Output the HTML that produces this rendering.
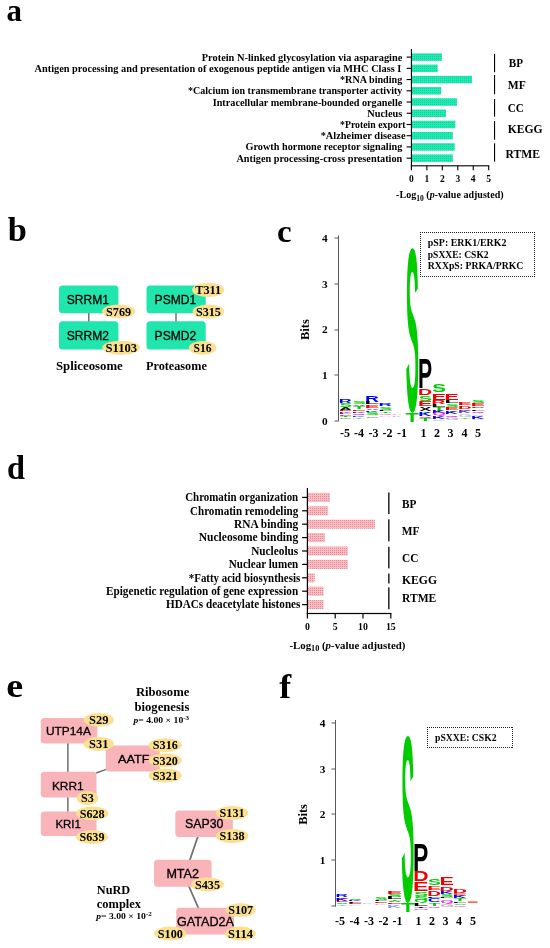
<!DOCTYPE html>
<html lang="en"><head><meta charset="utf-8"><title>Figure</title>
<style>
html,body{margin:0;padding:0;background:#fff}
body{width:550px;height:948px;overflow:hidden}
svg{display:block}
.sb{font-family:"Liberation Serif","DejaVu Serif",serif;font-weight:bold;fill:#000}
.sr{font-family:"Liberation Serif","DejaVu Serif",serif;font-weight:normal;fill:#000}
.sbi{font-family:"Liberation Serif","DejaVu Serif",serif;font-weight:bold;font-style:italic;fill:#000}
.sa{font-family:"Liberation Sans","DejaVu Sans",sans-serif;font-weight:normal;fill:#000;stroke:#000;stroke-width:0.3px}
.lg{font-family:"Liberation Sans","DejaVu Sans",sans-serif;font-weight:bold;font-size:10px}
</style></head><body>
<svg width="550" height="948" viewBox="0 0 550 948">
<defs>
<pattern id="pg" width="2" height="2" patternUnits="userSpaceOnUse"><rect width="2" height="2" fill="#22e9b2"/><rect x="0" y="0" width="1" height="1" fill="#10d49c"/></pattern>
<pattern id="pp" width="2" height="2" patternUnits="userSpaceOnUse"><rect width="2" height="2" fill="#fcbcc1"/><rect x="0" y="0" width="1" height="1" fill="#dc8d96"/></pattern>
</defs>
<rect width="550" height="948" fill="#fff"/>

<text class="sb" font-size="30" transform="matrix(1.0310 0 0 1.0578 6.60 21.29)">a</text>
<text class="sb" font-size="30" transform="matrix(1.1466 0 0 1.0944 7.76 240.98)">b</text>
<text class="sb" font-size="30" transform="matrix(1.1002 0 0 1.0823 277.07 241.60)">c</text>
<text class="sb" font-size="30" transform="matrix(1.0772 0 0 1.0896 6.89 478.68)">d</text>
<text class="sb" font-size="30" transform="matrix(1.2681 0 0 1.1123 6.30 697.39)">e</text>
<text class="sb" font-size="30" transform="matrix(1.1924 0 0 1.1220 279.24 697.70)">f</text>
<rect x="411.4" y="53.35" width="30.5" height="7.5" fill="url(#pg)"/>
<rect x="406.6" y="56.55" width="5" height="1.1" fill="#000"/>
<text class="sb" x="201.8" y="60.6" font-size="10.90" textLength="200.5" lengthAdjust="spacingAndGlyphs">Protein N-linked glycosylation via asparagine</text>
<rect x="411.4" y="64.58" width="26.3" height="7.5" fill="url(#pg)"/>
<rect x="406.6" y="67.78" width="5" height="1.1" fill="#000"/>
<text class="sb" x="34.5" y="71.8" font-size="10.90" textLength="366.8" lengthAdjust="spacingAndGlyphs">Antigen processing and presentation of exogenous peptide antigen via MHC Class I</text>
<rect x="411.4" y="75.81" width="60.6" height="7.5" fill="url(#pg)"/>
<rect x="406.6" y="79.01" width="5" height="1.1" fill="#000"/>
<text class="sb" x="340.0" y="83.1" font-size="10.90" textLength="62.3" lengthAdjust="spacingAndGlyphs">*RNA binding</text>
<rect x="411.4" y="87.04" width="29.7" height="7.5" fill="url(#pg)"/>
<rect x="406.6" y="90.24" width="5" height="1.1" fill="#000"/>
<text class="sb" x="188.0" y="94.3" font-size="10.90" textLength="214.3" lengthAdjust="spacingAndGlyphs">*Calcium ion transmembrane transporter activity</text>
<rect x="411.4" y="98.27" width="45.5" height="7.5" fill="url(#pg)"/>
<rect x="406.6" y="101.47" width="5" height="1.1" fill="#000"/>
<text class="sb" x="212.7" y="105.5" font-size="10.90" textLength="189.6" lengthAdjust="spacingAndGlyphs">Intracellular membrane-bounded organelle</text>
<rect x="411.4" y="109.50" width="34.6" height="7.5" fill="url(#pg)"/>
<rect x="406.6" y="112.70" width="5" height="1.1" fill="#000"/>
<text class="sb" x="367.3" y="116.8" font-size="10.90" textLength="35.0" lengthAdjust="spacingAndGlyphs">Nucleus</text>
<rect x="411.4" y="120.73" width="43.9" height="7.5" fill="url(#pg)"/>
<rect x="406.6" y="123.93" width="5" height="1.1" fill="#000"/>
<text class="sb" x="340.0" y="128.0" font-size="10.90" textLength="65.5" lengthAdjust="spacingAndGlyphs">*Protein export</text>
<rect x="411.4" y="131.96" width="41.4" height="7.5" fill="url(#pg)"/>
<rect x="406.6" y="135.16" width="5" height="1.1" fill="#000"/>
<text class="sb" x="320.7" y="139.2" font-size="10.90" textLength="84.8" lengthAdjust="spacingAndGlyphs">*Alzheimer disease</text>
<rect x="411.4" y="143.19" width="43.3" height="7.5" fill="url(#pg)"/>
<rect x="406.6" y="146.39" width="5" height="1.1" fill="#000"/>
<text class="sb" x="245.5" y="150.4" font-size="10.90" textLength="156.8" lengthAdjust="spacingAndGlyphs">Growth hormone receptor signaling</text>
<rect x="411.4" y="154.42" width="41.4" height="7.5" fill="url(#pg)"/>
<rect x="406.6" y="157.62" width="5" height="1.1" fill="#000"/>
<text class="sb" x="236.4" y="161.7" font-size="10.90" textLength="165.9" lengthAdjust="spacingAndGlyphs">Antigen processing-cross presentation</text>
<rect x="410.85" y="49" width="1.1" height="117.3" fill="#000"/>
<rect x="410.85" y="165.25" width="78.4" height="1.1" fill="#000"/>
<rect x="410.85" y="165.8" width="1.1" height="4.5" fill="#000"/>
<text class="sb" x="411.4" y="181.9" font-size="9.50" text-anchor="middle">0</text>
<rect x="426.31" y="165.8" width="1.1" height="4.5" fill="#000"/>
<text class="sb" x="426.9" y="181.9" font-size="9.50" text-anchor="middle">1</text>
<rect x="441.77" y="165.8" width="1.1" height="4.5" fill="#000"/>
<text class="sb" x="442.3" y="181.9" font-size="9.50" text-anchor="middle">2</text>
<rect x="457.23" y="165.8" width="1.1" height="4.5" fill="#000"/>
<text class="sb" x="457.8" y="181.9" font-size="9.50" text-anchor="middle">3</text>
<rect x="472.69" y="165.8" width="1.1" height="4.5" fill="#000"/>
<text class="sb" x="473.2" y="181.9" font-size="9.50" text-anchor="middle">4</text>
<rect x="488.15" y="165.8" width="1.1" height="4.5" fill="#000"/>
<text class="sb" x="488.7" y="181.9" font-size="9.50" text-anchor="middle">5</text>
<text class="sb" x="396.1" y="198.3" font-size="10.6" textLength="107.5" lengthAdjust="spacingAndGlyphs">-Log<tspan font-size="8" dy="2.4">10</tspan><tspan dy="-2.4"> (</tspan><tspan class="sbi">p</tspan>-value adjusted)</text>
<rect x="494" y="53.9" width="1.1" height="18.3" fill="#000"/>
<text class="sb" x="508.8" y="66.7" font-size="12.00" textLength="14.2" lengthAdjust="spacingAndGlyphs">BP</text>
<rect x="494" y="75.0" width="1.1" height="19.2" fill="#000"/>
<text class="sb" x="507.8" y="88.7" font-size="12.00" textLength="18.0" lengthAdjust="spacingAndGlyphs">MF</text>
<rect x="494" y="99.0" width="1.1" height="17.7" fill="#000"/>
<text class="sb" x="507.7" y="111.5" font-size="12.00" textLength="16.3" lengthAdjust="spacingAndGlyphs">CC</text>
<rect x="494" y="121.1" width="1.1" height="18.6" fill="#000"/>
<text class="sb" x="507.7" y="132.9" font-size="12.00" textLength="35.0" lengthAdjust="spacingAndGlyphs">KEGG</text>
<rect x="494" y="143.3" width="1.1" height="18.3" fill="#000"/>
<text class="sb" x="505.5" y="157.5" font-size="12.00" textLength="34.5" lengthAdjust="spacingAndGlyphs">RTME</text>
<line x1="88.8" y1="312.0" x2="88.8" y2="323.0" stroke="#707070" stroke-width="1.5"/>
<line x1="176.0" y1="312.0" x2="176.0" y2="323.0" stroke="#707070" stroke-width="1.5"/>
<rect x="59.0" y="285.5" width="59.4" height="27.7" rx="3.5" fill="#20e6ad"/>
<rect x="59.0" y="321.3" width="59.4" height="28.1" rx="3.5" fill="#20e6ad"/>
<rect x="146.5" y="285.5" width="59.2" height="27.7" rx="3.5" fill="#20e6ad"/>
<rect x="146.5" y="321.3" width="59.2" height="28.1" rx="3.5" fill="#20e6ad"/>
<text class="sa" x="66.7" y="304.2" font-size="13.00" textLength="42.2" lengthAdjust="spacingAndGlyphs">SRRM1</text>
<text class="sa" x="66.7" y="340.2" font-size="13.00" textLength="42.2" lengthAdjust="spacingAndGlyphs">SRRM2</text>
<text class="sa" x="154.6" y="304.2" font-size="13.00" textLength="41.6" lengthAdjust="spacingAndGlyphs">PSMD1</text>
<text class="sa" x="154.6" y="340.2" font-size="13.00" textLength="41.6" lengthAdjust="spacingAndGlyphs">PSMD2</text>
<ellipse cx="118.6" cy="311.4" rx="16.5" ry="6.8" fill="#fae090"/>
<text class="sb" x="106.1" y="315.6" font-size="12.70" textLength="25.0" lengthAdjust="spacingAndGlyphs">S769</text>
<ellipse cx="121.2" cy="347.8" rx="19.0" ry="7.0" fill="#fae090"/>
<text class="sb" x="105.5" y="352.0" font-size="12.70" textLength="31.6" lengthAdjust="spacingAndGlyphs">S1103</text>
<ellipse cx="208.2" cy="289.9" rx="16.1" ry="7.2" fill="#fae090"/>
<text class="sb" x="195.2" y="294.1" font-size="12.70" textLength="26.0" lengthAdjust="spacingAndGlyphs">T311</text>
<ellipse cx="208.4" cy="311.6" rx="15.8" ry="7.1" fill="#fae090"/>
<text class="sb" x="195.9" y="315.8" font-size="12.70" textLength="25.0" lengthAdjust="spacingAndGlyphs">S315</text>
<ellipse cx="202.6" cy="347.9" rx="13.8" ry="6.8" fill="#fae090"/>
<text class="sb" x="193.6" y="352.1" font-size="12.70" textLength="18.0" lengthAdjust="spacingAndGlyphs">S16</text>
<text class="sb" x="56.0" y="370.0" font-size="12.30" textLength="66.8" lengthAdjust="spacingAndGlyphs">Spliceosome</text>
<text class="sb" x="146.0" y="370.0" font-size="12.30" textLength="60.8" lengthAdjust="spacingAndGlyphs">Proteasome</text>
<rect x="338.00" y="235.5" width="1" height="185.8" fill="#5a5a5a"/>
<rect x="334.5" y="420.50" width="4" height="1" fill="#5a5a5a"/>
<text class="sb" x="324.9" y="424.5" font-size="11.30" text-anchor="middle">0</text>
<rect x="334.5" y="374.50" width="4" height="1" fill="#5a5a5a"/>
<text class="sb" x="324.9" y="378.9" font-size="11.30" text-anchor="middle">1</text>
<rect x="334.5" y="329.50" width="4" height="1" fill="#5a5a5a"/>
<text class="sb" x="324.9" y="333.3" font-size="11.30" text-anchor="middle">2</text>
<rect x="334.5" y="283.50" width="4" height="1" fill="#5a5a5a"/>
<text class="sb" x="324.9" y="287.8" font-size="11.30" text-anchor="middle">3</text>
<rect x="334.5" y="237.50" width="4" height="1" fill="#5a5a5a"/>
<text class="sb" x="324.9" y="242.2" font-size="11.30" text-anchor="middle">4</text>
<text class="sb" font-size="12.4" text-anchor="middle" transform="translate(309.3 329.6) rotate(-90)">Bits</text>
<text class="sb" x="345.0" y="436.7" font-size="12.00" text-anchor="middle">-5</text>
<text class="sb" x="359.0" y="436.7" font-size="12.00" text-anchor="middle">-4</text>
<text class="sb" x="373.5" y="436.7" font-size="12.00" text-anchor="middle">-3</text>
<text class="sb" x="387.5" y="436.7" font-size="12.00" text-anchor="middle">-2</text>
<text class="sb" x="402.0" y="436.7" font-size="12.00" text-anchor="middle">-1</text>
<text class="sb" x="423.5" y="436.7" font-size="12.00" text-anchor="middle">1</text>
<text class="sb" x="437.0" y="436.7" font-size="12.00" text-anchor="middle">2</text>
<text class="sb" x="450.5" y="436.7" font-size="12.00" text-anchor="middle">3</text>
<text class="sb" x="464.5" y="436.7" font-size="12.00" text-anchor="middle">4</text>
<text class="sb" x="478.0" y="436.7" font-size="12.00" text-anchor="middle">5</text>
<rect x="420" y="232" width="115" height="45" fill="#fff"/>
<g stroke="#1a1a1a" stroke-width="1" stroke-dasharray="1 1">
<line x1="420" y1="232.5" x2="535" y2="232.5"/>
<line x1="420" y1="276.5" x2="535" y2="276.5"/>
<line x1="420.5" y1="232" x2="420.5" y2="277"/>
<line x1="534.5" y1="232" x2="534.5" y2="277"/>
</g>
<text class="sb" x="427.8" y="246.0" font-size="10.80" textLength="78.6" lengthAdjust="spacingAndGlyphs">pSP: ERK1/ERK2</text>
<text class="sb" x="427.8" y="257.6" font-size="10.80" textLength="60.8" lengthAdjust="spacingAndGlyphs">pSXXE: CSK2</text>
<text class="sb" x="427.8" y="268.8" font-size="10.80" textLength="95.6" lengthAdjust="spacingAndGlyphs">RXXpS: PRKA/PRKC</text>
<text class="lg" transform="matrix(1.7802 0 0 0.4506 338.81 403.10)" fill="#0000ee">R</text>
<text class="lg" transform="matrix(1.8861 0 0 0.4802 339.46 406.95)" fill="#00cc00">S</text>
<text class="lg" transform="matrix(1.6843 0 0 0.3343 339.58 409.70)" fill="#000000">A</text>
<text class="lg" transform="matrix(2.0141 0 0 0.1744 338.65 411.20)" fill="#ee0000">E</text>
<text class="lg" transform="matrix(1.7492 0 0 0.2035 338.83 412.70)" fill="#4433ee">K</text>
<text class="lg" transform="matrix(2.2019 0 0 0.1744 338.53 414.40)" fill="#444">L</text>
<text class="lg" transform="matrix(2.0141 0 0 0.1308 338.65 415.70)" fill="#ee0000" fill-opacity="0.80">E</text>
<text class="lg" transform="matrix(1.9189 0 0 0.1890 339.78 417.40)" fill="#00cc00">T</text>
<text class="lg" transform="matrix(1.6746 0 0 0.1695 339.31 418.98)" fill="#555" fill-opacity="0.80">G</text>
<text class="lg" transform="matrix(2.0363 0 0 0.3249 352.41 404.07)" fill="#00cc00">S</text>
<text class="lg" transform="matrix(1.8185 0 0 0.2180 352.55 405.90)" fill="#000000">A</text>
<text class="lg" transform="matrix(2.0718 0 0 0.3343 352.77 409.20)" fill="#00cc00">T</text>
<text class="lg" transform="matrix(2.1746 0 0 0.2326 351.55 411.40)" fill="#ee0000">E</text>
<text class="lg" transform="matrix(1.8886 0 0 0.2035 351.74 413.20)" fill="#0000ee">K</text>
<text class="lg" transform="matrix(1.7558 0 0 0.1788 352.28 415.05)" fill="#ee22ee">Q</text>
<text class="lg" transform="matrix(1.8886 0 0 0.1744 351.74 416.80)" fill="#0000ee" fill-opacity="0.80">K</text>
<text class="lg" transform="matrix(2.0718 0 0 0.1454 352.77 419.00)" fill="#00cc00" fill-opacity="0.60">T</text>
<text class="lg" transform="matrix(1.9377 0 0 0.8140 364.90 401.90)" fill="#0000ee">R</text>
<text class="lg" transform="matrix(2.3968 0 0 0.3052 364.60 404.30)" fill="#000000">L</text>
<text class="lg" transform="matrix(2.1924 0 0 0.3052 364.73 407.80)" fill="#ee0000">E</text>
<text class="lg" transform="matrix(1.8334 0 0 0.2326 365.74 410.10)" fill="#000000">A</text>
<text class="lg" transform="matrix(1.9040 0 0 0.2471 364.93 411.90)" fill="#0000ee">K</text>
<text class="lg" transform="matrix(2.0530 0 0 0.3672 365.61 415.36)" fill="#00cc00">S</text>
<text class="lg" transform="matrix(1.8227 0 0 0.2260 365.45 417.78)" fill="#555" fill-opacity="0.80">G</text>
<text class="lg" transform="matrix(1.8590 0 0 0.3924 378.56 405.80)" fill="#0000ee">R</text>
<text class="lg" transform="matrix(1.9696 0 0 0.3955 379.23 409.56)" fill="#00cc00">S</text>
<text class="lg" transform="matrix(2.2994 0 0 0.1744 378.26 411.30)" fill="#000000">L</text>
<text class="lg" transform="matrix(2.0038 0 0 0.2471 379.57 413.40)" fill="#00cc00">T</text>
<text class="lg" transform="matrix(1.6983 0 0 0.1788 379.10 415.25)" fill="#ee22ee" fill-opacity="0.60">Q</text>
<text class="lg" transform="matrix(2.0851 0 0 0.2035 378.41 417.20)" fill="#ff88bb" fill-opacity="0.50">P</text>
<text class="lg" transform="matrix(1.5020 0 0 0.1744 392.00 415.40)" fill="#ff88bb" fill-opacity="0.70">P</text>
<text class="lg" transform="matrix(1.3158 0 0 0.1744 392.12 416.80)" fill="#6688ff" fill-opacity="0.60">K</text>
<text class="lg" transform="matrix(2.1737 0 0 1.3082 405.56 422.20)" fill="#00cc00">T</text>
<text class="lg" transform="matrix(1.9862 0 0 23.2625 405.63 410.73)" fill="#00cc00">S</text>
<text class="lg" transform="matrix(2.1204 0 0 4.3315 417.98 388.00)" fill="#000000">P</text>
<text class="lg" transform="matrix(1.9567 0 0 0.8721 418.09 394.90)" fill="#ee0000">D</text>
<text class="lg" transform="matrix(2.0029 0 0 0.7627 418.82 400.63)" fill="#00cc00">S</text>
<text class="lg" transform="matrix(2.1389 0 0 0.6832 417.97 405.80)" fill="#ee0000">E</text>
<text class="lg" transform="matrix(1.8478 0 0 0.5814 419.24 410.60)" fill="#000000">X</text>
<text class="lg" transform="matrix(1.8934 0 0 0.2471 419.08 412.60)" fill="#00cc00">Y</text>
<text class="lg" transform="matrix(1.8576 0 0 0.4651 418.16 416.40)" fill="#0000ee">K</text>
<text class="lg" transform="matrix(1.7271 0 0 0.2011 418.69 418.30)" fill="#ee22ee">Q</text>
<text class="lg" transform="matrix(2.0378 0 0 0.3343 419.17 421.40)" fill="#00cc00">T</text>
<text class="lg" transform="matrix(2.0530 0 0 1.1582 432.31 391.59)" fill="#00cc00">S</text>
<text class="lg" transform="matrix(2.1924 0 0 0.9593 431.43 399.90)" fill="#ee0000">E</text>
<text class="lg" transform="matrix(1.9377 0 0 0.4797 431.60 403.70)" fill="#ee0000">R</text>
<text class="lg" transform="matrix(2.3968 0 0 0.2907 431.30 406.70)" fill="#000000">L</text>
<text class="lg" transform="matrix(2.0888 0 0 0.4651 432.67 410.60)" fill="#00cc00">T</text>
<text class="lg" transform="matrix(1.9040 0 0 0.2907 431.63 413.00)" fill="#0000ee">K</text>
<text class="lg" transform="matrix(1.7702 0 0 0.2570 432.17 415.09)" fill="#ee22ee">Q</text>
<text class="lg" transform="matrix(1.9040 0 0 0.3924 431.63 418.90)" fill="#0000ee">K</text>
<text class="lg" transform="matrix(1.8227 0 0 0.2401 432.15 420.78)" fill="#999999" fill-opacity="0.70">G</text>
<text class="lg" transform="matrix(2.1389 0 0 0.9593 444.57 399.90)" fill="#ee0000">E</text>
<text class="lg" transform="matrix(2.3383 0 0 0.3343 444.44 403.40)" fill="#000000">L</text>
<text class="lg" transform="matrix(2.0029 0 0 0.3814 445.42 407.26)" fill="#00cc00">S</text>
<text class="lg" transform="matrix(2.1389 0 0 0.2762 444.57 409.90)" fill="#ee0000">E</text>
<text class="lg" transform="matrix(2.0378 0 0 0.2326 445.77 412.00)" fill="#00cc00">T</text>
<text class="lg" transform="matrix(1.8576 0 0 0.2762 444.76 414.20)" fill="#0000ee">K</text>
<text class="lg" transform="matrix(1.7271 0 0 0.2458 445.29 416.72)" fill="#ee22ee">Q</text>
<text class="lg" transform="matrix(1.7783 0 0 0.3107 445.27 419.77)" fill="#999999" fill-opacity="0.80">G</text>
<text class="lg" transform="matrix(2.0676 0 0 0.3052 457.82 405.40)" fill="#ee0000">E</text>
<text class="lg" transform="matrix(1.8915 0 0 0.3779 457.93 408.60)" fill="#ee0000">D</text>
<text class="lg" transform="matrix(1.9362 0 0 0.2260 458.64 410.88)" fill="#00cc00">S</text>
<text class="lg" transform="matrix(1.7957 0 0 0.2907 458.00 413.30)" fill="#5533ee">K</text>
<text class="lg" transform="matrix(1.7190 0 0 0.3107 458.49 416.77)" fill="#999999" fill-opacity="0.70">G</text>
<text class="lg" transform="matrix(1.9699 0 0 0.2035 458.98 419.20)" fill="#00cc00" fill-opacity="0.70">T</text>
<text class="lg" transform="matrix(2.0029 0 0 0.4237 471.62 403.36)" fill="#00cc00">S</text>
<text class="lg" transform="matrix(2.1389 0 0 0.2616 470.77 405.90)" fill="#ee0000">E</text>
<text class="lg" transform="matrix(1.9567 0 0 0.2471 470.89 408.20)" fill="#ee0000">D</text>
<text class="lg" transform="matrix(2.3383 0 0 0.2326 470.64 410.60)" fill="#000000">L</text>
<text class="lg" transform="matrix(1.7271 0 0 0.1899 471.49 412.63)" fill="#ee22ee">Q</text>
<text class="lg" transform="matrix(1.7886 0 0 0.1890 471.75 415.70)" fill="#999999" fill-opacity="0.80">A</text>
<text class="lg" transform="matrix(1.8576 0 0 0.2616 470.96 418.50)" fill="#0000ee">K</text>
<text class="lg" transform="matrix(1.7783 0 0 0.2119 471.47 420.48)" fill="#999999" fill-opacity="0.60">G</text>
<rect x="307.4" y="492.85" width="22.6" height="9.1" fill="url(#pp)"/>
<rect x="302.1" y="496.80" width="5.5" height="1.2" fill="#000"/>
<text class="sb" x="185.2" y="501.1" font-size="11.90" textLength="113.0" lengthAdjust="spacingAndGlyphs">Chromatin organization</text>
<rect x="307.4" y="506.25" width="20.7" height="9.1" fill="url(#pp)"/>
<rect x="302.1" y="510.20" width="5.5" height="1.2" fill="#000"/>
<text class="sb" x="190.0" y="514.5" font-size="11.90" textLength="108.2" lengthAdjust="spacingAndGlyphs">Chromatin remodeling</text>
<rect x="307.4" y="519.65" width="67.5" height="9.1" fill="url(#pp)"/>
<rect x="302.1" y="523.60" width="5.5" height="1.2" fill="#000"/>
<text class="sb" x="234.0" y="527.9" font-size="11.90" textLength="64.2" lengthAdjust="spacingAndGlyphs">RNA binding</text>
<rect x="307.4" y="533.05" width="17.4" height="9.1" fill="url(#pp)"/>
<rect x="302.1" y="537.00" width="5.5" height="1.2" fill="#000"/>
<text class="sb" x="198.8" y="541.3" font-size="11.90" textLength="99.4" lengthAdjust="spacingAndGlyphs">Nucleosome binding</text>
<rect x="307.4" y="546.45" width="40.4" height="9.1" fill="url(#pp)"/>
<rect x="302.1" y="550.40" width="5.5" height="1.2" fill="#000"/>
<text class="sb" x="251.2" y="554.7" font-size="11.90" textLength="47.0" lengthAdjust="spacingAndGlyphs">Nucleolus</text>
<rect x="307.4" y="559.85" width="40.4" height="9.1" fill="url(#pp)"/>
<rect x="302.1" y="563.80" width="5.5" height="1.2" fill="#000"/>
<text class="sb" x="228.8" y="568.1" font-size="11.90" textLength="69.4" lengthAdjust="spacingAndGlyphs">Nuclear lumen</text>
<rect x="307.4" y="573.25" width="7.3" height="9.1" fill="url(#pp)"/>
<rect x="302.1" y="577.20" width="5.5" height="1.2" fill="#000"/>
<text class="sb" x="188.8" y="581.5" font-size="11.90" textLength="111.4" lengthAdjust="spacingAndGlyphs">*Fatty acid biosynthesis</text>
<rect x="307.4" y="586.65" width="16.2" height="9.1" fill="url(#pp)"/>
<rect x="302.1" y="590.60" width="5.5" height="1.2" fill="#000"/>
<text class="sb" x="106.0" y="594.9" font-size="11.90" textLength="192.2" lengthAdjust="spacingAndGlyphs">Epigenetic regulation of gene expression</text>
<rect x="307.4" y="600.05" width="16.2" height="9.1" fill="url(#pp)"/>
<rect x="302.1" y="604.00" width="5.5" height="1.2" fill="#000"/>
<text class="sb" x="166.0" y="608.3" font-size="11.90" textLength="134.4" lengthAdjust="spacingAndGlyphs">HDACs deacetylate histones</text>
<rect x="306.80" y="488" width="1.2" height="126.1" fill="#000"/>
<rect x="306.80" y="612.90" width="84.6" height="1.2" fill="#000"/>
<rect x="306.80" y="613.5" width="1.2" height="5" fill="#000"/>
<text class="sb" x="307.4" y="630.0" font-size="9.80" text-anchor="middle">0</text>
<rect x="334.60" y="613.5" width="1.2" height="5" fill="#000"/>
<text class="sb" x="335.2" y="630.0" font-size="9.80" text-anchor="middle">5</text>
<rect x="362.40" y="613.5" width="1.2" height="5" fill="#000"/>
<text class="sb" x="363.0" y="630.0" font-size="9.80" text-anchor="middle">10</text>
<rect x="390.20" y="613.5" width="1.2" height="5" fill="#000"/>
<text class="sb" x="390.8" y="630.0" font-size="9.80" text-anchor="middle">15</text>
<text class="sb" x="289.4" y="648.8" font-size="10.6" textLength="116.0" lengthAdjust="spacingAndGlyphs">-Log<tspan font-size="8" dy="2.4">10</tspan><tspan dy="-2.4"> (</tspan><tspan class="sbi">p</tspan>-value adjusted)</text>
<rect x="388.2" y="492.5" width="1.3" height="21.6" fill="#000"/>
<text class="sb" x="402.0" y="507.6" font-size="11.60" textLength="14.4" lengthAdjust="spacingAndGlyphs">BP</text>
<rect x="388.2" y="519.3" width="1.3" height="22.0" fill="#000"/>
<text class="sb" x="401.8" y="535.1" font-size="11.60" textLength="17.7" lengthAdjust="spacingAndGlyphs">MF</text>
<rect x="388.2" y="546.8" width="1.3" height="21.6" fill="#000"/>
<text class="sb" x="402.0" y="561.5" font-size="11.60" textLength="16.4" lengthAdjust="spacingAndGlyphs">CC</text>
<rect x="388.2" y="573.5" width="1.3" height="10.0" fill="#000"/>
<text class="sb" x="402.0" y="583.7" font-size="11.60" textLength="35.0" lengthAdjust="spacingAndGlyphs">KEGG</text>
<rect x="388.2" y="587.3" width="1.3" height="21.9" fill="#000"/>
<text class="sb" x="402.0" y="601.9" font-size="11.60" textLength="34.3" lengthAdjust="spacingAndGlyphs">RTME</text>
<line x1="67.9" y1="742.0" x2="67.9" y2="774.0" stroke="#707070" stroke-width="1.5"/>
<line x1="67.9" y1="795.0" x2="67.9" y2="813.0" stroke="#707070" stroke-width="1.5"/>
<line x1="106.5" y1="769.4" x2="96.0" y2="773.0" stroke="#707070" stroke-width="1.5"/>
<line x1="198.2" y1="835.5" x2="189.5" y2="861.0" stroke="#707070" stroke-width="1.8"/>
<line x1="188.3" y1="885.0" x2="198.8" y2="909.0" stroke="#707070" stroke-width="1.8"/>
<rect x="40.8" y="718.0" width="56.6" height="25.4" rx="3.5" fill="#f9b4ba"/>
<rect x="105.7" y="745.6" width="54.1" height="25.9" rx="3.5" fill="#f9b4ba"/>
<rect x="40.8" y="771.8" width="55.7" height="25.7" rx="3.5" fill="#f9b4ba"/>
<rect x="40.8" y="811.4" width="55.7" height="24.7" rx="3.5" fill="#f9b4ba"/>
<rect x="175.3" y="810.5" width="57.5" height="26.5" rx="3.5" fill="#f9b4ba"/>
<rect x="154.0" y="859.8" width="57.6" height="27.0" rx="3.5" fill="#f9b4ba"/>
<rect x="176.2" y="907.8" width="57.8" height="26.8" rx="3.5" fill="#f9b4ba"/>
<text class="sa" x="46.0" y="735.0" font-size="11.80" textLength="44.9" lengthAdjust="spacingAndGlyphs">UTP14A</text>
<text class="sa" x="118.1" y="763.2" font-size="11.80" textLength="31.4" lengthAdjust="spacingAndGlyphs">AATF</text>
<text class="sa" x="51.9" y="789.8" font-size="11.80" textLength="31.8" lengthAdjust="spacingAndGlyphs">KRR1</text>
<text class="sa" x="55.4" y="827.8" font-size="11.80" textLength="25.5" lengthAdjust="spacingAndGlyphs">KRI1</text>
<text class="sa" x="185.0" y="827.6" font-size="12.20" textLength="38.4" lengthAdjust="spacingAndGlyphs">SAP30</text>
<text class="sa" x="166.4" y="877.7" font-size="12.20" textLength="32.6" lengthAdjust="spacingAndGlyphs">MTA2</text>
<text class="sa" x="177.0" y="926.3" font-size="12.20" textLength="57.0" lengthAdjust="spacingAndGlyphs">GATAD2A</text>
<ellipse cx="98.8" cy="719.9" rx="15.1" ry="6.9" fill="#fae090"/>
<text class="sb" x="89.1" y="724.1" font-size="12.70" textLength="19.4" lengthAdjust="spacingAndGlyphs">S29</text>
<ellipse cx="98.8" cy="743.9" rx="15.1" ry="7.0" fill="#fae090"/>
<text class="sb" x="89.1" y="748.1" font-size="12.70" textLength="19.4" lengthAdjust="spacingAndGlyphs">S31</text>
<ellipse cx="165.2" cy="745.2" rx="16.6" ry="6.9" fill="#fae090"/>
<text class="sb" x="152.8" y="749.4" font-size="12.70" textLength="25.0" lengthAdjust="spacingAndGlyphs">S316</text>
<ellipse cx="165.2" cy="760.4" rx="16.6" ry="7.0" fill="#fae090"/>
<text class="sb" x="152.8" y="764.6" font-size="12.70" textLength="25.0" lengthAdjust="spacingAndGlyphs">S320</text>
<ellipse cx="165.2" cy="775.5" rx="16.6" ry="6.9" fill="#fae090"/>
<text class="sb" x="152.8" y="779.7" font-size="12.70" textLength="25.0" lengthAdjust="spacingAndGlyphs">S321</text>
<ellipse cx="87.5" cy="798.0" rx="10.9" ry="7.1" fill="#fae090"/>
<text class="sb" x="81.1" y="802.2" font-size="12.70" textLength="12.8" lengthAdjust="spacingAndGlyphs">S3</text>
<ellipse cx="92.2" cy="813.4" rx="16.1" ry="7.0" fill="#fae090"/>
<text class="sb" x="79.7" y="817.6" font-size="12.70" textLength="25.0" lengthAdjust="spacingAndGlyphs">S628</text>
<ellipse cx="92.0" cy="837.1" rx="15.9" ry="7.0" fill="#fae090"/>
<text class="sb" x="79.5" y="841.4" font-size="12.70" textLength="25.0" lengthAdjust="spacingAndGlyphs">S639</text>
<ellipse cx="232.1" cy="813.1" rx="16.3" ry="7.0" fill="#fae090"/>
<text class="sb" x="219.6" y="817.4" font-size="12.70" textLength="25.0" lengthAdjust="spacingAndGlyphs">S131</text>
<ellipse cx="232.1" cy="836.0" rx="16.3" ry="7.1" fill="#fae090"/>
<text class="sb" x="219.6" y="840.2" font-size="12.70" textLength="25.0" lengthAdjust="spacingAndGlyphs">S138</text>
<ellipse cx="207.5" cy="884.4" rx="16.4" ry="7.0" fill="#fae090"/>
<text class="sb" x="195.0" y="888.6" font-size="12.70" textLength="25.0" lengthAdjust="spacingAndGlyphs">S435</text>
<ellipse cx="240.7" cy="910.1" rx="15.1" ry="6.8" fill="#fae090"/>
<text class="sb" x="228.2" y="914.4" font-size="12.70" textLength="25.0" lengthAdjust="spacingAndGlyphs">S107</text>
<ellipse cx="170.3" cy="933.6" rx="16.1" ry="7.0" fill="#fae090"/>
<text class="sb" x="157.8" y="937.8" font-size="12.70" textLength="25.0" lengthAdjust="spacingAndGlyphs">S100</text>
<ellipse cx="240.4" cy="933.6" rx="15.4" ry="7.0" fill="#fae090"/>
<text class="sb" x="227.9" y="937.8" font-size="12.70" textLength="25.0" lengthAdjust="spacingAndGlyphs">S114</text>
<text class="sb" x="135.9" y="696.4" font-size="12.30" textLength="53.4" lengthAdjust="spacingAndGlyphs">Ribosome</text>
<text class="sb" x="134.5" y="710.8" font-size="12.30" textLength="54.8" lengthAdjust="spacingAndGlyphs">biogenesis</text>
<text class="sb" x="133.5" y="723.0" font-size="8.8" textLength="55.6" lengthAdjust="spacingAndGlyphs"><tspan class="sbi">p</tspan>= 4.00 × 10<tspan font-size="6.4" dy="-3">-3</tspan></text>
<text class="sb" x="96.8" y="893.7" font-size="12.30" textLength="33.4" lengthAdjust="spacingAndGlyphs">NuRD</text>
<text class="sb" x="96.8" y="907.5" font-size="12.30" textLength="44.2" lengthAdjust="spacingAndGlyphs">complex</text>
<text class="sb" x="96.2" y="919.4" font-size="8.8" textLength="55.6" lengthAdjust="spacingAndGlyphs"><tspan class="sbi">p</tspan>= 3.00 × 10<tspan font-size="6.4" dy="-3">-2</tspan></text>
<rect x="335.00" y="720.0" width="1" height="186.5" fill="#5a5a5a"/>
<rect x="331.5" y="905.50" width="4" height="1" fill="#5a5a5a"/>
<rect x="331.5" y="859.50" width="4" height="1" fill="#5a5a5a"/>
<text class="sb" x="322.5" y="864.0" font-size="11.30" text-anchor="middle">1</text>
<rect x="331.5" y="813.50" width="4" height="1" fill="#5a5a5a"/>
<text class="sb" x="322.5" y="818.2" font-size="11.30" text-anchor="middle">2</text>
<rect x="331.5" y="768.50" width="4" height="1" fill="#5a5a5a"/>
<text class="sb" x="322.5" y="772.5" font-size="11.30" text-anchor="middle">3</text>
<rect x="331.5" y="722.50" width="4" height="1" fill="#5a5a5a"/>
<text class="sb" x="322.5" y="726.7" font-size="11.30" text-anchor="middle">4</text>
<text class="sb" font-size="12.4" text-anchor="middle" transform="translate(307.2 814.5) rotate(-90)">Bits</text>
<text class="sb" x="340.0" y="925.0" font-size="12.00" text-anchor="middle">-5</text>
<text class="sb" x="354.5" y="925.0" font-size="12.00" text-anchor="middle">-4</text>
<text class="sb" x="369.0" y="925.0" font-size="12.00" text-anchor="middle">-3</text>
<text class="sb" x="383.5" y="925.0" font-size="12.00" text-anchor="middle">-2</text>
<text class="sb" x="397.5" y="925.0" font-size="12.00" text-anchor="middle">-1</text>
<text class="sb" x="418.5" y="925.0" font-size="12.00" text-anchor="middle">1</text>
<text class="sb" x="432.0" y="925.0" font-size="12.00" text-anchor="middle">2</text>
<text class="sb" x="445.5" y="925.0" font-size="12.00" text-anchor="middle">3</text>
<text class="sb" x="459.0" y="925.0" font-size="12.00" text-anchor="middle">4</text>
<text class="sb" x="473.0" y="925.0" font-size="12.00" text-anchor="middle">5</text>
<rect x="427" y="727" width="86" height="21" fill="#fff"/>
<g stroke="#1a1a1a" stroke-width="1" stroke-dasharray="1 1">
<line x1="427" y1="727.5" x2="513" y2="727.5"/>
<line x1="427" y1="747.5" x2="513" y2="747.5"/>
<line x1="427.5" y1="727" x2="427.5" y2="748"/>
<line x1="512.5" y1="727" x2="512.5" y2="748"/>
</g>
<text class="sb" x="435.0" y="741.4" font-size="10.80" textLength="61.5" lengthAdjust="spacingAndGlyphs">pSXXE: CSK2</text>
<text class="lg" transform="matrix(1.7329 0 0 0.2762 335.54 897.00)" fill="#0000ee">R</text>
<text class="lg" transform="matrix(1.9607 0 0 0.1890 335.39 898.50)" fill="#ee0000">E</text>
<text class="lg" transform="matrix(1.7028 0 0 0.2907 335.56 900.80)" fill="#0000ee">K</text>
<text class="lg" transform="matrix(1.9607 0 0 0.1454 335.39 902.00)" fill="#ee0000">E</text>
<text class="lg" transform="matrix(1.8360 0 0 0.2119 336.17 903.68)" fill="#00cc00">S</text>
<text class="lg" transform="matrix(1.8680 0 0 0.2326 336.49 905.80)" fill="#22cccc" fill-opacity="0.80">T</text>
<text class="lg" transform="matrix(1.9862 0 0 0.2260 348.73 899.58)" fill="#00cc00">S</text>
<text class="lg" transform="matrix(1.8421 0 0 0.2326 348.07 901.40)" fill="#0000ee">K</text>
<text class="lg" transform="matrix(2.3189 0 0 0.1308 347.75 902.50)" fill="#000000">L</text>
<text class="lg" transform="matrix(2.1211 0 0 0.1890 347.88 904.00)" fill="#ee0000">E</text>
<text class="lg" transform="matrix(2.1028 0 0 0.2035 347.89 905.60)" fill="#ff88bb" fill-opacity="0.50">P</text>
<text class="lg" transform="matrix(1.6564 0 0 0.1744 361.69 904.40)" fill="#6688ff" fill-opacity="0.45">K</text>
<text class="lg" transform="matrix(1.9362 0 0 0.3107 374.84 899.87)" fill="#00cc00">S</text>
<text class="lg" transform="matrix(2.2604 0 0 0.1890 373.89 901.40)" fill="#000000">L</text>
<text class="lg" transform="matrix(2.0676 0 0 0.2326 374.02 903.30)" fill="#ee0000">E</text>
<text class="lg" transform="matrix(1.7957 0 0 0.1454 374.20 904.50)" fill="#6688ff" fill-opacity="0.50">K</text>
<text class="lg" transform="matrix(2.2993 0 0 0.2762 386.76 893.80)" fill="#ee0000">E</text>
<text class="lg" transform="matrix(2.1532 0 0 0.3249 387.68 896.67)" fill="#00cc00">S</text>
<text class="lg" transform="matrix(2.5137 0 0 0.2616 386.62 898.90)" fill="#000000">L</text>
<text class="lg" transform="matrix(2.1906 0 0 0.2471 388.05 900.80)" fill="#00cc00">T</text>
<text class="lg" transform="matrix(1.9228 0 0 0.1744 387.82 902.40)" fill="#000000">A</text>
<text class="lg" transform="matrix(2.2993 0 0 0.1744 386.76 903.70)" fill="#ee0000">E</text>
<text class="lg" transform="matrix(1.9969 0 0 0.3924 386.96 907.70)" fill="#5566ff" fill-opacity="0.70">K</text>
<text class="lg" transform="matrix(2.2416 0 0 1.2064 400.95 911.50)" fill="#00cc00">T</text>
<text class="lg" transform="matrix(1.9696 0 0 23.5026 401.23 900.90)" fill="#00cc00">S</text>
<text class="lg" transform="matrix(2.2972 0 0 3.8373 413.06 870.60)" fill="#000000">P</text>
<text class="lg" transform="matrix(2.1197 0 0 1.4244 413.18 881.20)" fill="#ee0000">D</text>
<text class="lg" transform="matrix(2.3171 0 0 1.2064 413.05 890.90)" fill="#ee0000">E</text>
<text class="lg" transform="matrix(2.1698 0 0 0.5367 413.97 895.95)" fill="#00cc00">S</text>
<text class="lg" transform="matrix(2.1698 0 0 0.4802 413.97 899.65)" fill="#00cc00">S</text>
<text class="lg" transform="matrix(1.8710 0 0 0.3128 413.83 902.18)" fill="#00cc00">Q</text>
<text class="lg" transform="matrix(2.5332 0 0 0.3488 412.91 905.80)" fill="#000000">L</text>
<text class="lg" transform="matrix(2.2076 0 0 0.2035 414.35 907.60)" fill="#000000">T</text>
<text class="lg" transform="matrix(2.2113 0 0 0.2471 413.12 909.80)" fill="#ee22ee" fill-opacity="0.80">N</text>
<text class="lg" transform="matrix(1.9362 0 0 0.8616 428.04 884.82)" fill="#00cc00">S</text>
<text class="lg" transform="matrix(2.0676 0 0 0.6105 427.22 890.40)" fill="#ee0000">E</text>
<text class="lg" transform="matrix(1.8915 0 0 0.6686 427.33 895.80)" fill="#ee0000">D</text>
<text class="lg" transform="matrix(2.2604 0 0 0.2180 427.09 897.80)" fill="#000000">L</text>
<text class="lg" transform="matrix(1.7742 0 0 0.5226 427.87 902.25)" fill="#0000ee">C</text>
<text class="lg" transform="matrix(1.9699 0 0 0.3052 428.38 906.40)" fill="#00cc00">T</text>
<text class="lg" transform="matrix(1.6695 0 0 0.2235 427.92 908.36)" fill="#ee22ee" fill-opacity="0.80">Q</text>
<text class="lg" transform="matrix(2.1567 0 0 1.1628 439.46 885.40)" fill="#ee0000">E</text>
<text class="lg" transform="matrix(1.9730 0 0 0.5814 439.58 890.80)" fill="#ee0000">D</text>
<text class="lg" transform="matrix(1.8731 0 0 0.3343 439.65 893.60)" fill="#0000ee">K</text>
<text class="lg" transform="matrix(2.0196 0 0 0.3390 440.32 896.77)" fill="#00cc00">S</text>
<text class="lg" transform="matrix(2.3578 0 0 0.1744 439.32 898.40)" fill="#000000">L</text>
<text class="lg" transform="matrix(1.7414 0 0 0.4246 440.19 902.96)" fill="#ee22ee">Q</text>
<text class="lg" transform="matrix(1.7931 0 0 0.3107 440.16 907.17)" fill="#999999" fill-opacity="0.80">G</text>
<text class="lg" transform="matrix(1.9730 0 0 0.5087 452.68 893.10)" fill="#ee0000">D</text>
<text class="lg" transform="matrix(2.1567 0 0 0.3343 452.56 895.70)" fill="#ee0000" fill-opacity="0.75">E</text>
<text class="lg" transform="matrix(1.8731 0 0 0.2762 452.75 898.00)" fill="#0000ee">K</text>
<text class="lg" transform="matrix(2.0548 0 0 0.3488 453.77 900.90)" fill="#00cc00">T</text>
<text class="lg" transform="matrix(2.3578 0 0 0.1890 452.42 902.60)" fill="#000000">L</text>
<text class="lg" transform="matrix(2.0196 0 0 0.2542 453.42 905.38)" fill="#00cc00" fill-opacity="0.80">S</text>
<text class="lg" transform="matrix(1.7414 0 0 0.1341 453.29 906.54)" fill="#ee22ee" fill-opacity="0.60">Q</text>
<rect x="467.8" y="901.6" width="9.8" height="1" fill="#ee0000"/>
</svg>
</body></html>
